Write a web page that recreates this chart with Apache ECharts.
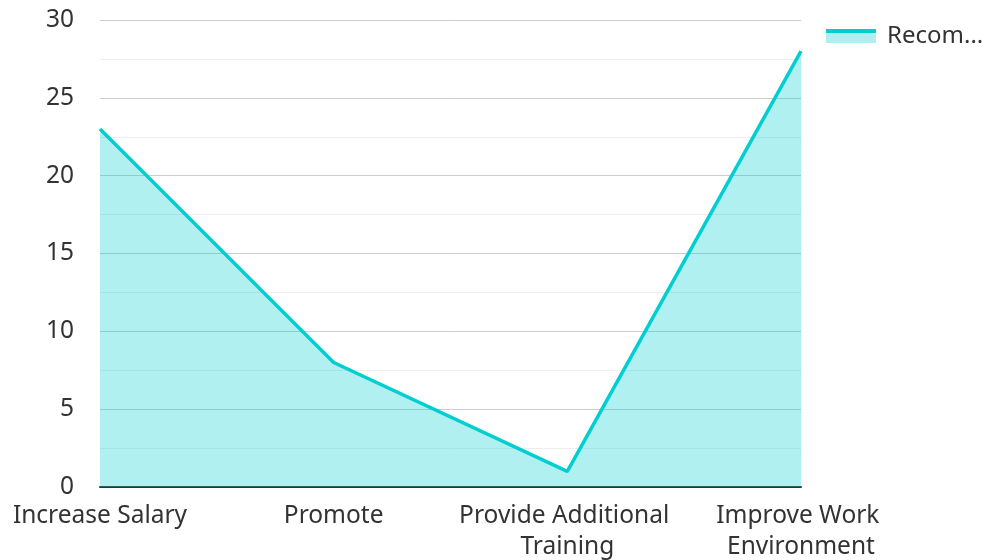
<!DOCTYPE html>
<html>
<head>
<meta charset="utf-8">
<script src="https://cdn.jsdelivr.net/npm/echarts@6/dist/echarts.min.js"></script>
<style>
  html, body { margin: 0; padding: 0; background: #fff; }
  #chart { width: 987px; height: 560px; }
</style>
</head>
<body>
<div id="chart"></div>
<script>
// data
const categories = ["Increase Salary", "Promote", "Provide Additional Training", "Improve Work Environment"];
const seriesName = "Recommendations";
const seriesValues = [23, 8, 1, 28];

const turquoise = "#00CED1";

const chart = echarts.init(document.getElementById("chart"));
chart.setOption({
  textStyle: { fontFamily: "Noto Sans" },
  animation: false,
  grid: { left: 100, right: 186, top: 20, bottom: 73, outerBoundsMode: "none", containLabel: false },
  legend: {
    left: 821,
    top: 19,
    itemWidth: 50,
    itemHeight: 14,
    itemGap: 10,
    icon: "rect",
    itemStyle: {
      // line on top, light area below, like the reference legend swatch
      color: new echarts.graphic.LinearGradient(0, 0, 0, 1, [
        { offset: 0, color: turquoise },
        { offset: 0.3, color: turquoise },
        { offset: 0.3, color: "#B0EFEF" },
        { offset: 1, color: "#B0EFEF" }
      ])
    },
    lineStyle: { opacity: 0 },
    textStyle: { fontSize: 24, color: "#333", width: 104, overflow: "truncate", ellipsis: "...", padding: [0, 0, 0, 6] },
    data: [seriesName]
  },
  xAxis: {
    type: "category",
    data: categories,
    boundaryGap: false,
    axisLine: { lineStyle: { color: "#333", width: 2 } },
    axisTick: { show: false },
    axisLabel: {
      fontSize: 24.5,
      color: "#333",
      margin: 14,
      interval: 0,
      width: 230,
      overflow: "break",
      lineHeight: 31
    }
  },
  yAxis: {
    type: "value",
    min: 0,
    max: 30,
    interval: 5,
    axisLabel: { fontSize: 24.5, color: "#333", margin: 26 },
    splitLine: { lineStyle: { color: "#ccc", width: 1 } },
    minorTick: { show: false, splitNumber: 2 },
    minorSplitLine: { show: true, lineStyle: { color: "#eee", width: 1 } }
  },
  series: [{
    name: seriesName,
    type: "line",
    data: seriesValues,
    symbol: "none",
    lineStyle: { color: turquoise, width: 3.5 },
    itemStyle: { color: turquoise },
    areaStyle: { color: turquoise, opacity: 0.31 }
  }]
});
</script>
</body>
</html>
